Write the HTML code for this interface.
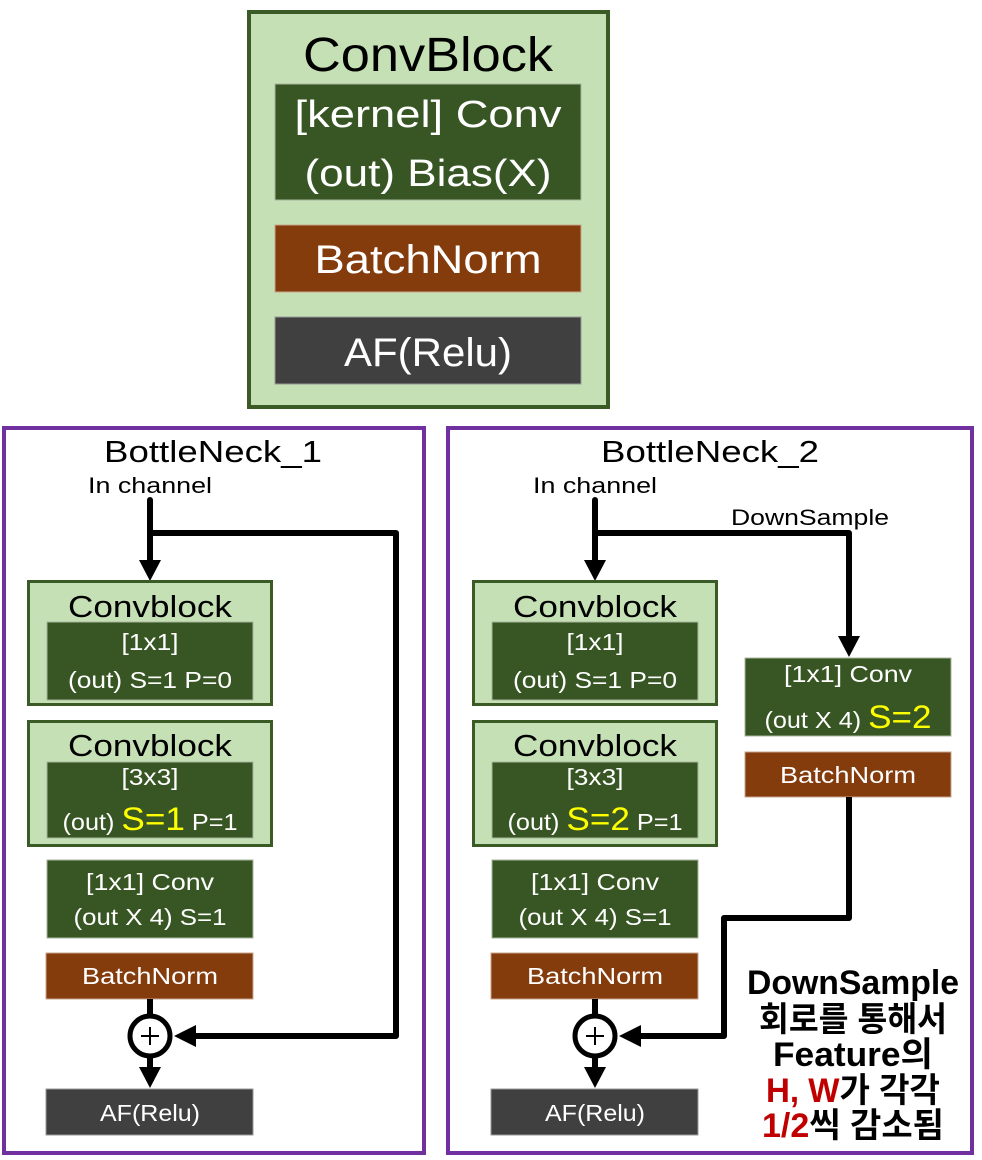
<!DOCTYPE html>
<html><head><meta charset="utf-8"><style>
html,body{margin:0;padding:0;background:#fff;}
svg{display:block;}
text{font-family:"Liberation Sans","Noto Sans CJK KR",sans-serif;text-anchor:middle;}
</style></head><body>
<svg width="982" height="1160" viewBox="0 0 982 1160" xmlns="http://www.w3.org/2000/svg">
<!-- Top ConvBlock -->
<rect x="249" y="12" width="359" height="395" fill="#c5e0b4" stroke="#3b5b26" stroke-width="4"/>
<text x="428" y="71" font-size="48" fill="#000" textLength="250" lengthAdjust="spacingAndGlyphs">ConvBlock</text>
<rect x="275" y="84" width="306" height="116" fill="#375623" stroke="#a9b59e" stroke-width="1"/>
<text x="428" y="127" font-size="38" fill="#fff" textLength="267" lengthAdjust="spacingAndGlyphs">[kernel] Conv</text>
<text x="428" y="186" font-size="38" fill="#fff" textLength="247" lengthAdjust="spacingAndGlyphs">(out) Bias(X)</text>
<rect x="275" y="225" width="306" height="67" fill="#843c0c" stroke="#c9a48c" stroke-width="1"/>
<text x="428" y="273" font-size="40" fill="#fff" textLength="227" lengthAdjust="spacingAndGlyphs">BatchNorm</text>
<rect x="275" y="317" width="306" height="67" fill="#404040" stroke="#999" stroke-width="1"/>
<text x="428" y="366" font-size="40" fill="#fff" textLength="168" lengthAdjust="spacingAndGlyphs">AF(Relu)</text>

<!-- BottleNeck_1 -->
<rect x="4" y="428" width="420" height="725" fill="#fff" stroke="#7030a0" stroke-width="4"/>
<text x="213" y="462" font-size="31" fill="#000" textLength="218" lengthAdjust="spacingAndGlyphs">BottleNeck_1</text>
<!-- BottleNeck_2 -->
<rect x="448" y="428" width="524" height="725" fill="#fff" stroke="#7030a0" stroke-width="4"/>
<text x="710" y="462" font-size="31" fill="#000" textLength="218" lengthAdjust="spacingAndGlyphs">BottleNeck_2</text>

<g id="col">
<text x="150" y="493" font-size="22" fill="#000" textLength="124" lengthAdjust="spacingAndGlyphs">In channel</text>
<line x1="150" y1="500" x2="150" y2="565" stroke="#000" stroke-width="6" stroke-linecap="round"/>
<polygon points="139,560 161,560 150,581" fill="#000"/>
<rect x="28.5" y="581.5" width="243" height="123" fill="#c5e0b4" stroke="#3b5b26" stroke-width="3"/>
<text x="150" y="617" font-size="31" fill="#000" textLength="164" lengthAdjust="spacingAndGlyphs">Convblock</text>
<rect x="47" y="622" width="206" height="78" fill="#375623" stroke="#a9b59e" stroke-width="1"/>
<text x="150" y="650" font-size="23" fill="#fff" textLength="57" lengthAdjust="spacingAndGlyphs">[1x1]</text>
<text x="150" y="688" font-size="23" fill="#fff" textLength="164" lengthAdjust="spacingAndGlyphs">(out) S=1 P=0</text>
<rect x="28.5" y="721.5" width="243" height="124" fill="#c5e0b4" stroke="#3b5b26" stroke-width="3"/>
<text x="150" y="756" font-size="31" fill="#000" textLength="164" lengthAdjust="spacingAndGlyphs">Convblock</text>
<rect x="47" y="762" width="206" height="76" fill="#375623" stroke="#a9b59e" stroke-width="1"/>
<text x="150" y="785" font-size="23" fill="#fff" textLength="57" lengthAdjust="spacingAndGlyphs">[3x3]</text>
<rect x="47" y="860" width="206" height="78" fill="#375623" stroke="#a9b59e" stroke-width="1"/>
<text x="150" y="890" font-size="23" fill="#fff" textLength="128" lengthAdjust="spacingAndGlyphs">[1x1] Conv</text>
<text x="150" y="925" font-size="23" fill="#fff" textLength="153" lengthAdjust="spacingAndGlyphs">(out X 4) S=1</text>
<rect x="46" y="953" width="207" height="46" fill="#843c0c" stroke="#c9a48c" stroke-width="1"/>
<text x="150" y="984" font-size="23" fill="#fff" textLength="136" lengthAdjust="spacingAndGlyphs">BatchNorm</text>
<line x1="150" y1="999" x2="150" y2="1014" stroke="#000" stroke-width="6"/>
<circle cx="150" cy="1036" r="20" fill="#fff" stroke="#000" stroke-width="5"/>
<line x1="141" y1="1036" x2="159" y2="1036" stroke="#000" stroke-width="2"/>
<line x1="150" y1="1027" x2="150" y2="1045" stroke="#000" stroke-width="2"/>
<line x1="150" y1="1058" x2="150" y2="1072" stroke="#000" stroke-width="6"/>
<polygon points="139,1067 161,1067 150,1088" fill="#000"/>
<rect x="46" y="1089" width="207" height="46" fill="#404040" stroke="#999" stroke-width="1"/>
<text x="150" y="1121" font-size="23" fill="#fff" textLength="100" lengthAdjust="spacingAndGlyphs">AF(Relu)</text>
</g>
<use href="#col" x="445" y="0"/>

<text x="150" y="830" font-size="23" fill="#fff" textLength="175" lengthAdjust="spacingAndGlyphs">(out) <tspan fill="#ffff00" font-size="32">S=1</tspan> P=1</text>
<polyline points="150,533 396,533 396,1036 190,1036" fill="none" stroke="#000" stroke-width="6" stroke-linejoin="round"/>
<polygon points="174,1036 196,1025 196,1047" fill="#000"/>

<text x="595" y="830" font-size="23" fill="#fff" textLength="175" lengthAdjust="spacingAndGlyphs">(out) <tspan fill="#ffff00" font-size="32">S=2</tspan> P=1</text>
<polyline points="595,533 849,533 849,640" fill="none" stroke="#000" stroke-width="6" stroke-linejoin="round"/>
<polygon points="838,636 860,636 849,657" fill="#000"/>
<text x="810" y="525" font-size="22" fill="#000" textLength="158" lengthAdjust="spacingAndGlyphs">DownSample</text>
<rect x="745" y="658" width="206" height="78" fill="#375623" stroke="#a9b59e" stroke-width="1"/>
<text x="848" y="682" font-size="23" fill="#fff" textLength="128" lengthAdjust="spacingAndGlyphs">[1x1] Conv</text>
<text x="848" y="728" font-size="23" fill="#fff" textLength="167" lengthAdjust="spacingAndGlyphs">(out X 4) <tspan fill="#ffff00" font-size="32">S=2</tspan></text>
<rect x="745" y="752" width="206" height="45" fill="#843c0c" stroke="#c9a48c" stroke-width="1"/>
<text x="848" y="783" font-size="23" fill="#fff" textLength="136" lengthAdjust="spacingAndGlyphs">BatchNorm</text>
<polyline points="849,797 849,918 724,918 724,1036 635,1036" fill="none" stroke="#000" stroke-width="6" stroke-linejoin="round"/>
<polygon points="619,1036 641,1025 641,1047" fill="#000"/>

<g font-weight="bold" font-size="34" fill="#000">
<text x="853" y="994" textLength="212" lengthAdjust="spacingAndGlyphs">DownSample</text>
<text x="853" y="1031" textLength="188" lengthAdjust="spacingAndGlyphs">회로를 통해서</text>
<text x="853" y="1066" textLength="160" lengthAdjust="spacingAndGlyphs">Feature의</text>
<text x="853" y="1102" textLength="174" lengthAdjust="spacingAndGlyphs"><tspan fill="#c00000">H, W</tspan>가 각각</text>
<text x="853" y="1137" textLength="182" lengthAdjust="spacingAndGlyphs"><tspan fill="#c00000">1/2</tspan>씩 감소됨</text>
</g>
</svg>
</body></html>
